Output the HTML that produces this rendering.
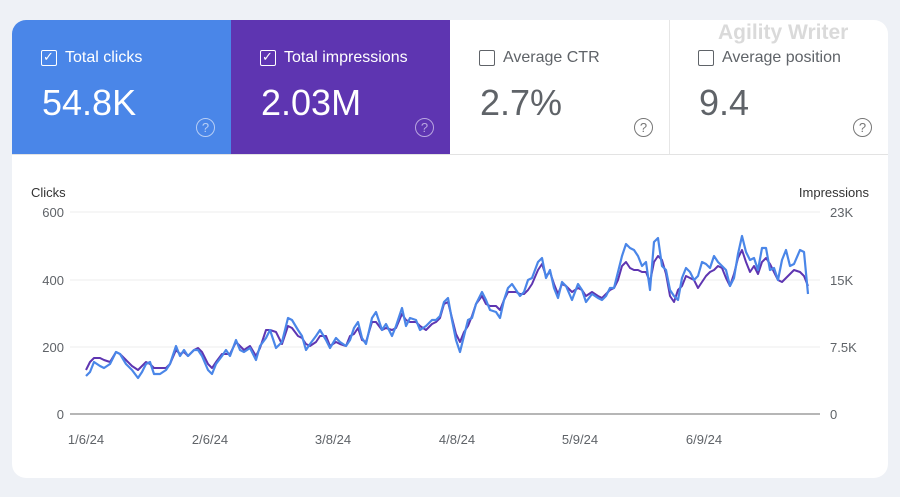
<!DOCTYPE html>
<html><head><meta charset="utf-8"><style>
body{margin:0;width:900px;height:497px;background:#eef1f6;font-family:"Liberation Sans",sans-serif;overflow:hidden;position:relative}
.card{position:absolute;left:12px;top:20px;width:876px;height:458px;background:#fff;border-radius:14px;overflow:hidden}
.t{position:absolute;top:0;height:134px;width:219px}
.lab{position:absolute;left:29px;top:29px;font-size:16px;display:flex;align-items:center}
.cb{width:16px;height:16px;border:1.8px solid;border-radius:2px;margin-right:8px;position:relative;box-sizing:border-box}
.val{position:absolute;left:30px;top:62px;font-size:36px}
.q{position:absolute;left:184px;top:98px;width:19px;height:19px;border:1.6px solid;border-radius:50%;font-size:13px;text-align:center;line-height:17px;box-sizing:border-box}
</style></head><body>
<div class="card">
<div class="t" style="left:0;background:#4a86e8;color:#fff"><div class="lab"><div class="cb" style="border-color:#fff"><span style="position:absolute;left:1px;top:-2px;font-size:13px">✓</span></div>Total clicks</div><div class="val">54.8K</div><div class="q" style="border-color:#b7cef5;color:#b7cef5">?</div></div>
<div class="t" style="left:219px;background:#5e35b1;color:#fff"><div class="lab"><div class="cb" style="border-color:#fff"><span style="position:absolute;left:1px;top:-2px;font-size:13px">✓</span></div>Total impressions</div><div class="val">2.03M</div><div class="q" style="border-color:#b9a6e0;color:#b9a6e0">?</div></div>
<div class="t" style="left:438px;color:#5f6368;border-right:1px solid #e6e6e6"><div class="lab"><div class="cb" style="border-color:#5f6368"></div>Average CTR</div><div class="val">2.7%</div><div class="q" style="border-color:#777;color:#777">?</div></div>
<div class="t" style="left:657px;color:#5f6368"><div class="lab"><div class="cb" style="border-color:#5f6368"></div>Average position</div><div class="val">9.4</div><div class="q" style="border-color:#777;color:#777">?</div></div>
<div style="position:absolute;left:706px;top:1px;font-size:21px;font-weight:bold;color:#dadada">Agility Writer</div>
<div style="position:absolute;left:0;top:134px;width:876px;height:1px;background:#e3e3e3"></div>
</div>
<svg width="900" height="497" style="position:absolute;left:0;top:0" font-family="Liberation Sans,sans-serif" font-size="13" fill="#5f6368">
<g stroke="#ececec" stroke-width="1"><line x1="70" x2="820" y1="212" y2="212"/><line x1="70" x2="820" y1="280" y2="280"/><line x1="70" x2="820" y1="347" y2="347"/></g>
<line x1="70" x2="820" y1="414" y2="414" stroke="#9e9e9e" stroke-width="1.5"/>
<text x="31" y="197" fill="#333">Clicks</text><text x="869" y="197" text-anchor="end" fill="#333">Impressions</text>
<g text-anchor="end"><text x="64" y="217">600</text><text x="64" y="285">400</text><text x="64" y="352">200</text><text x="64" y="419">0</text></g>
<g><text x="830" y="217">23K</text><text x="830" y="285">15K</text><text x="830" y="352">7.5K</text><text x="830" y="419">0</text></g>
<g text-anchor="middle"><text x="86" y="444">1/6/24</text><text x="210" y="444">2/6/24</text><text x="333" y="444">3/8/24</text><text x="457" y="444">4/8/24</text><text x="580" y="444">5/9/24</text><text x="704" y="444">6/9/24</text></g>
<polyline fill="none" stroke="#5e35b1" stroke-width="2" stroke-linejoin="round" points="86,370 90,362 94,358 100,358 104,360 110,362 116,352 120,354 126,360 132,366 138,370 142,366 146,362 150,364 154,368 160,368 166,368 170,364 176,350 180,354 184,352 188,356 194,350 198,348 202,352 208,364 212,368 216,362 222,354 226,354 230,354 236,342 240,346 244,350 250,346 256,356 260,348 266,330 270,330 276,332 282,344 288,326 292,328 298,336 302,338 306,344 310,346 316,342 320,336 326,336 330,346 336,342 340,344 346,346 350,336 354,334 358,328 362,340 366,342 372,322 376,322 382,330 386,328 392,330 396,328 402,314 406,320 410,322 416,322 420,326 426,330 432,324 436,322 440,318 444,304 448,302 452,318 456,334 460,342 464,332 468,326 472,316 476,304 482,296 486,304 490,306 496,306 500,310 504,300 508,292 512,292 516,292 520,294 524,294 528,290 532,284 538,270 542,264 546,276 550,272 554,284 558,294 562,284 566,286 572,292 578,288 582,290 586,296 592,292 598,296 602,298 606,294 610,290 614,288 618,280 622,266 626,262 630,268 634,270 638,270 642,272 646,272 650,282 654,262 658,256 662,260 666,274 670,296 674,302 678,290 682,286 686,276 690,278 694,280 698,288 702,282 706,276 710,272 714,270 718,266 722,268 726,278 730,286 734,274 738,258 742,250 746,262 750,272 754,266 758,274 762,262 766,258 770,264 774,272 778,280 782,282 786,278 790,274 794,270 800,272 804,276 808,286"/>
<polyline fill="none" stroke="#4a86e8" stroke-width="2.2" stroke-linejoin="round" points="86,376 90,372 94,362 100,366 104,368 110,364 116,352 120,354 126,364 132,370 138,378 142,372 146,364 150,362 154,374 160,374 166,370 170,364 176,346 180,356 184,350 188,356 194,350 198,350 202,356 208,370 212,374 216,364 222,356 226,350 230,356 236,340 240,350 244,352 250,348 256,360 260,346 266,338 270,330 276,348 282,342 288,318 292,320 298,330 302,336 306,350 310,344 316,336 320,330 326,340 330,348 336,338 340,342 346,346 350,340 354,328 358,322 362,338 366,344 372,318 376,312 382,330 386,324 392,336 396,326 402,308 406,326 410,318 416,320 420,330 426,326 432,320 436,320 440,316 444,302 448,298 452,320 456,340 460,352 464,336 468,320 472,318 476,304 482,292 486,300 490,310 496,312 500,318 504,300 508,288 512,284 516,290 520,296 524,292 528,280 532,278 538,262 542,258 546,278 550,270 554,288 558,298 562,282 566,286 572,300 578,284 582,290 586,302 592,294 598,298 602,300 606,296 610,288 614,288 618,272 622,256 626,244 630,248 634,250 638,256 642,266 646,262 650,290 654,242 658,238 662,266 666,270 670,290 674,296 678,300 682,278 686,268 690,272 694,280 698,276 702,262 706,264 710,268 714,256 718,262 722,266 726,270 730,286 734,278 738,254 742,236 746,252 750,260 754,258 758,270 762,248 766,248 770,270 774,268 778,280 782,260 786,250 790,266 794,264 800,250 804,252 808,294"/>
</svg>
</body></html>
